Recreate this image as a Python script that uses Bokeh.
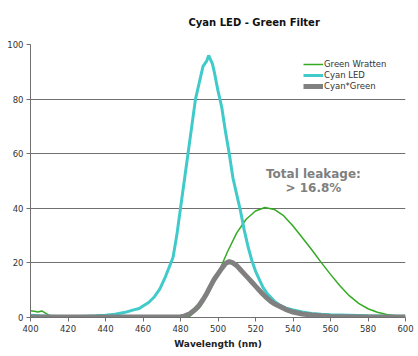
from bokeh.plotting import figure
from bokeh.models import Label, Legend, LegendItem, FixedTicker, Title
from bokeh.embed import file_html
from bokeh.resources import INLINE

# Cyan LED spectrum
cyan_nm = [400, 405, 410, 415, 420, 425, 430, 435, 440, 445, 450, 455, 458, 460, 463, 466, 469, 472, 474,
           476, 478, 480, 482, 484, 486, 488, 490, 492, 494, 495, 496, 497, 498, 500, 502, 504, 506, 508,
           510, 512, 514, 516, 518, 520, 522, 524, 526, 528, 530, 533, 536, 540, 545, 550, 555, 560, 570,
           580, 590, 600]
cyan_val = [0.8, 0.6, 0.5, 0.4, 0.4, 0.4, 0.5, 0.6, 0.8, 1.2, 1.8, 2.8, 3.3, 4.2, 5.5, 7.5, 10.5, 15, 18.5,
            22, 30, 40, 50, 60, 70, 80, 86, 92, 94, 96, 94.5, 93, 90, 83, 77, 68, 60, 51,
            45, 39, 32, 26, 21, 17, 14, 11, 9, 7.5, 6, 4.5, 3.5, 2.8, 2.0, 1.5, 1.2, 1.0, 0.8,
            0.6, 0.5, 0.5]

# Green Wratten filter transmission
green_nm = [400, 402, 404, 406, 408, 410, 412, 415, 430, 460, 480, 485, 490, 495, 500, 505, 510, 515, 520,
            525, 530, 535, 540, 545, 550, 555, 560, 565, 570, 575, 580, 585, 590, 595, 600]
green_val = [2.5, 2.3, 2.0, 2.4, 1.6, 0.8, 0.4, 0.2, 0.1, 0.1, 0.2, 0.5, 3.5, 9, 16, 24, 31, 36, 39,
             40.3, 39.6, 37.3, 33.5, 29.2, 24.8, 20.2, 15.8, 11.6, 8, 5.2, 3.2, 1.9, 1.1, 0.6, 0.3]

# Cyan*Green product
prod_nm = [400, 440, 470, 480, 482, 485, 488, 490, 492, 494, 496, 498, 500, 502, 504, 506, 508, 510, 512,
           514, 516, 518, 520, 522, 524, 526, 528, 530, 533, 536, 540, 545, 550, 555, 560, 570, 580, 600]
prod_val = [0.2, 0.2, 0.2, 0.3, 0.5, 1.4, 3, 4.5, 6.5, 8.8, 11.5, 14, 16, 18, 19.8, 20.5, 20, 19, 17.5,
            16, 14.5, 13, 11.5, 10, 8.5, 7.2, 6, 5, 4, 3, 2, 1.3, 0.9, 0.6, 0.4, 0.3, 0.2, 0.2]

x_ticks = [400, 420, 440, 460, 480, 500, 520, 540, 560, 580, 600]
y_ticks = [0, 20, 40, 60, 80, 100]

p = figure(width=418, height=356, x_range=(400, 600), y_range=(0, 100),
           output_backend="svg", toolbar_location=None, title=None,
           min_border_left=30, min_border_right=13, min_border_top=44, min_border_bottom=39)
p.outline_line_color = None
p.background_fill_color = "white"

p.add_layout(Title(text="Cyan LED - Green Filter", align="left", offset=158, standoff=30,
                   vertical_align="top",
                   text_font="DejaVu Sans", text_font_style="bold", text_font_size="10px",
                   text_color="#111111"), "above")

p.xgrid.grid_line_color = None
p.ygrid.grid_line_color = "#707070"
p.ygrid.grid_line_width = 1

p.xaxis.ticker = FixedTicker(ticks=x_ticks)
p.yaxis.ticker = FixedTicker(ticks=y_ticks)
for ax in (p.xaxis, p.yaxis):
    ax.axis_line_color = "#707070"
    ax.major_tick_line_color = "#707070"
    ax.minor_tick_line_color = None
    ax.major_tick_in = 0
    ax.major_tick_out = 4
    ax.major_label_text_font = "DejaVu Sans"
    ax.major_label_text_font_size = "8.5px"
    ax.major_label_text_color = "#333333"
    ax.major_label_standoff = 3
p.xaxis.axis_label = "Wavelength (nm)"
p.xaxis.axis_label_text_font = "DejaVu Sans"
p.xaxis.axis_label_text_font_style = "bold"
p.xaxis.axis_label_text_font_size = "9px"
p.xaxis.axis_label_text_color = "#222222"
p.xaxis.axis_label_standoff = 4

r_green = p.line(green_nm, green_val, line_color="#33AA22", line_width=1.5)
r_cyan = p.line(cyan_nm, cyan_val, line_color="#40CACA", line_width=3)
r_prod = p.line(prod_nm, prod_val, line_color="#808080", line_width=5)

legend = Legend(items=[LegendItem(label="Green Wratten", renderers=[r_green]),
                       LegendItem(label="Cyan LED", renderers=[r_cyan]),
                       LegendItem(label="Cyan*Green", renderers=[r_prod])],
                location=(273, 226))
legend.background_fill_alpha = 0
legend.border_line_color = None
legend.padding = 0
legend.margin = 0
legend.spacing = 1
legend.glyph_width = 20
legend.glyph_height = 10
legend.label_height = 10
legend.label_standoff = 1
legend.label_text_font = "DejaVu Sans"
legend.label_text_font_size = "8.5px"
legend.label_text_color = "#333333"
p.add_layout(legend)

p.add_layout(Label(x=550.9, y=52.7, text="Total leakage:", text_align="center",
                   text_baseline="middle", text_font="DejaVu Sans", text_font_style="bold",
                   text_font_size="12px", text_color="#7F7F7F"))
p.add_layout(Label(x=550.9, y=47.3, text="> 16.8%", text_align="center",
                   text_baseline="middle", text_font="DejaVu Sans", text_font_style="bold",
                   text_font_size="12px", text_color="#7F7F7F"))

open("out.html", "w").write(file_html(p, INLINE))
